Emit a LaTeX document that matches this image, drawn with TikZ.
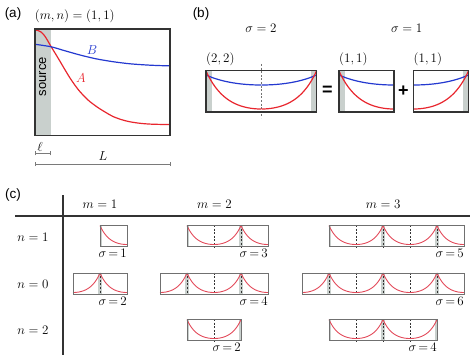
\RequirePackage{fix-cm}
\documentclass[tikz,border=0pt]{standalone}
\usepackage{fontspec}
\setsansfont{Liberation Sans}
\definecolor{cred}{HTML}{E8262E}
\definecolor{cblue}{HTML}{2439D0}
\definecolor{cpink}{HTML}{E24A5A}
\definecolor{cstrip}{HTML}{C9D0CD}
\definecolor{cboxa}{HTML}{333333}
\definecolor{cboxc}{HTML}{707070}
\definecolor{crule}{HTML}{333333}
\definecolor{cbar}{HTML}{7A7A7A}
\newcommand{\hcurve}[7]{%
  \draw[#1] plot[domain=0:#6, samples=40, variable=\s]
    ({#2+(#3)*\s}, {#4+(#5)*(1-(cosh((#6-\s)/#7)-1)/(cosh(#6/#7)-1))});}
\newcommand{\rc}[4]{\pgfmathsetmacro\dep{#4-#3-2}\hcurve{pinkline}{#1}{#2}{#3}{\dep}{27}{9.7}}
\newcommand{\cstripbox}[4]{\fill[cstrip] (#1,#3) rectangle (#2,#4);}
\newcommand{\cdash}[3]{\draw[cdashline] (#1,#2-0.5) -- (#1,#3+0.5);}
\tikzset{
  every node/.style={inner sep=0pt, font=\fontsize{13}{15}\selectfont},
  panel/.style={font=\sffamily\fontsize{13.5}{16}\selectfont},
  boxa/.style={draw=cboxa, line width=1.3pt},
  boxc/.style={draw=cboxc, line width=0.9pt},
  redline/.style={cred, line width=1.2pt},
  blueline/.style={cblue, line width=1.2pt},
  pinkline/.style={cpink, line width=0.9pt},
  cdashline/.style={black!80, line width=0.7pt, dash pattern=on 2pt off 1.6pt},
  bdashline/.style={black!55, line width=0.9pt, dash pattern=on 2pt off 1.6pt},
  rule/.style={crule, line width=1.8pt},
  bar/.style={cbar, line width=1pt},
  sig/.style={anchor=north east},
  opsym/.style={font=\sffamily\bfseries\fontsize{18}{20}\selectfont}
}
\begin{document}
\begin{tikzpicture}[x=1pt,y=-1pt]
\useasboundingbox (0,0) rectangle (474,361);
% ---------------- panel (a)
\node[panel] (la) at (13,14) {(a)};
\node (mn) at (74.7,16.7) {$(m,n)=(1,1)$};
\fill[cstrip] (35,29) rectangle (50.5,135.5);
\node[rotate=90, font=\sffamily\fontsize{13}{15}\selectfont] (src) at (42.7,76.7) {source};
\draw[redline] plot[smooth] coordinates {(35,30) (38,30.5) (41,32) (44,35) (47,39.5) (50.7,46) (55,53) (60,61.3) (65,69.8) (70,78) (75,85.3) (80,91.7) (88,100) (96.7,106.7) (105,112) (113,116.5) (122,119.8) (130,121.8) (140,123.3) (150,124.1) (160,124.4) (170,124.5)};
\draw[blueline] plot[smooth] coordinates {(35,44.3) (50.7,46.7) (65,50.8) (80,55) (96,58.8) (113,61.7) (130,63.8) (146.7,65) (160,65.6) (170,65.8)};
\node[text=cblue] (B) at (92,50) {$B$};
\node[text=cred] (A) at (81,78) {$A$};
\draw[boxa] (35,29) rectangle (170,135.5);
\coordinate (l1) at (35,153.3); \coordinate (l2) at (50.5,153.3);
\draw[bar] (l1) -- (l2);
\draw[bar] ([yshift=-2pt]l1) -- ([yshift=2pt]l1) ([yshift=-2pt]l2) -- ([yshift=2pt]l2);
\node (ell) at (40,146.5) {$\ell$};
\coordinate (L1) at (35,164); \coordinate (L2) at (170,164);
\draw[bar] (L1) -- (L2);
\draw[bar] ([yshift=-2pt]L1) -- ([yshift=2pt]L1) ([yshift=-2pt]L2) -- ([yshift=2pt]L2);
\node (Lab) at (103,156.5) {$L$};
% ---------------- panel (b)
\node[panel] (lb) at (201,14) {(b)};
\node (s2) at (261,28) {$\sigma=2$};
\node (s1) at (406.7,28) {$\sigma=1$};
\fill[cstrip] (206,70.5) rectangle (212,112);
\fill[cstrip] (310.5,70.5) rectangle (316.5,112);
\draw[bdashline] (261,64) -- (261,118);
\hcurve{blueline}{206}{1}{75}{10}{55}{32}
\hcurve{blueline}{316.5}{-1}{75}{10}{55}{32}
\hcurve{redline}{206}{1}{71}{38}{55}{20}
\hcurve{redline}{316.5}{-1}{71}{38}{55}{20}
\draw[boxa] (206,70.5) rectangle (316.5,112);
\node[anchor=west] (p22) at (206,59) {$(2,2)$};
\node[opsym] (eq) at (327.5,91) {=};
\fill[cstrip] (339,70.5) rectangle (345,112);
\hcurve{blueline}{339}{1}{75}{10}{55}{32}
\hcurve{redline}{339}{1}{71}{38}{55}{20}
\draw[boxa] (339,70.5) rectangle (394,112);
\node[anchor=west] (p11a) at (339,59) {$(1,1)$};
\node[opsym] (plus) at (403.5,91) {+};
\fill[cstrip] (462.5,70.5) rectangle (468.5,112);
\hcurve{blueline}{468.5}{-1}{75}{10}{55}{32}
\hcurve{redline}{468.5}{-1}{71}{38}{55}{20}
\draw[boxa] (413.5,70.5) rectangle (468.5,112);
\node[anchor=west] (p11b) at (413.5,59) {$(1,1)$};
% ---------------- panel (c)
\node[panel] (lc) at (13,195) {(c)};
\draw[rule] (63,195) -- (63,355);
\draw[rule] (15,215.7) -- (470,215.7);
\node (m1) at (100,204) {$m=1$};
\node (m2) at (214.5,204) {$m=2$};
\node (m3) at (383.3,204) {$m=3$};
\node (n1) at (33,237) {$n=1$};
\node (n0) at (33,284) {$n=0$};
\node (n2) at (33,330) {$n=2$};
\def\Ta{225.5}\def\Ba{246.5}
\def\Tb{273}\def\Bb{294.5}
\def\Tc{319.5}\def\Bc{340.5}
% row n=1
\cstripbox{100}{102}{\Ta}{\Ba}
\rc{100}{1}{\Ta}{\Ba}
\draw[boxc] (100,\Ta) rectangle (127,\Ba);
\node[sig] (sa1) at (127,248.5) {$\sigma\,{=}\,1$};
\cstripbox{187}{189}{\Ta}{\Ba}\cstripbox{239}{243}{\Ta}{\Ba}
\cdash{214}{\Ta}{\Ba}\cdash{241}{\Ta}{\Ba}
\rc{187}{1}{\Ta}{\Ba}\rc{241}{-1}{\Ta}{\Ba}\rc{241}{1}{\Ta}{\Ba}
\draw[boxc] (187,\Ta) rectangle (268,\Ba);
\node[sig] (sa2) at (268,248.5) {$\sigma\,{=}\,3$};
\cstripbox{329}{331}{\Ta}{\Ba}\cstripbox{381}{385}{\Ta}{\Ba}\cstripbox{435}{439}{\Ta}{\Ba}
\cdash{356}{\Ta}{\Ba}\cdash{383}{\Ta}{\Ba}\cdash{410}{\Ta}{\Ba}\cdash{437}{\Ta}{\Ba}
\rc{329}{1}{\Ta}{\Ba}\rc{383}{-1}{\Ta}{\Ba}\rc{383}{1}{\Ta}{\Ba}\rc{437}{-1}{\Ta}{\Ba}\rc{437}{1}{\Ta}{\Ba}
\draw[boxc] (329,\Ta) rectangle (464,\Ba);
\node[sig] (sa3) at (464,248.5) {$\sigma\,{=}\,5$};
% row n=0
\cstripbox{98}{102}{\Tb}{\Bb}
\cdash{100}{\Tb}{\Bb}
\rc{100}{-1}{\Tb}{\Bb}\rc{100}{1}{\Tb}{\Bb}
\draw[boxc] (73,\Tb) rectangle (127,\Bb);
\node[sig] (sb1) at (127,296.5) {$\sigma\,{=}\,2$};
\cstripbox{185}{189}{\Tb}{\Bb}\cstripbox{239}{243}{\Tb}{\Bb}
\cdash{187}{\Tb}{\Bb}\cdash{214}{\Tb}{\Bb}\cdash{241}{\Tb}{\Bb}
\rc{187}{-1}{\Tb}{\Bb}\rc{187}{1}{\Tb}{\Bb}\rc{241}{-1}{\Tb}{\Bb}\rc{241}{1}{\Tb}{\Bb}
\draw[boxc] (160,\Tb) rectangle (268,\Bb);
\node[sig] (sb2) at (268,296.5) {$\sigma\,{=}\,4$};
\cstripbox{327}{331}{\Tb}{\Bb}\cstripbox{381}{385}{\Tb}{\Bb}\cstripbox{435}{439}{\Tb}{\Bb}
\cdash{329}{\Tb}{\Bb}\cdash{356}{\Tb}{\Bb}\cdash{383}{\Tb}{\Bb}\cdash{410}{\Tb}{\Bb}\cdash{437}{\Tb}{\Bb}
\rc{329}{-1}{\Tb}{\Bb}\rc{329}{1}{\Tb}{\Bb}\rc{383}{-1}{\Tb}{\Bb}\rc{383}{1}{\Tb}{\Bb}\rc{437}{-1}{\Tb}{\Bb}\rc{437}{1}{\Tb}{\Bb}
\draw[boxc] (302,\Tb) rectangle (464,\Bb);
\node[sig] (sb3) at (464,296.5) {$\sigma\,{=}\,6$};
% row n=2
\cstripbox{187}{189}{\Tc}{\Bc}\cstripbox{239}{241}{\Tc}{\Bc}
\cdash{214}{\Tc}{\Bc}
\rc{187}{1}{\Tc}{\Bc}\rc{241}{-1}{\Tc}{\Bc}
\draw[boxc] (187,\Tc) rectangle (241,\Bc);
\node[sig] (sc2) at (241,342.5) {$\sigma\,{=}\,2$};
\cstripbox{329}{331}{\Tc}{\Bc}\cstripbox{381}{385}{\Tc}{\Bc}\cstripbox{435}{437}{\Tc}{\Bc}
\cdash{356}{\Tc}{\Bc}\cdash{383}{\Tc}{\Bc}\cdash{410}{\Tc}{\Bc}
\rc{329}{1}{\Tc}{\Bc}\rc{383}{-1}{\Tc}{\Bc}\rc{383}{1}{\Tc}{\Bc}\rc{437}{-1}{\Tc}{\Bc}
\draw[boxc] (329,\Tc) rectangle (437,\Bc);
\node[sig] (sc3) at (437,342.5) {$\sigma\,{=}\,4$};
\end{tikzpicture}
\end{document}
